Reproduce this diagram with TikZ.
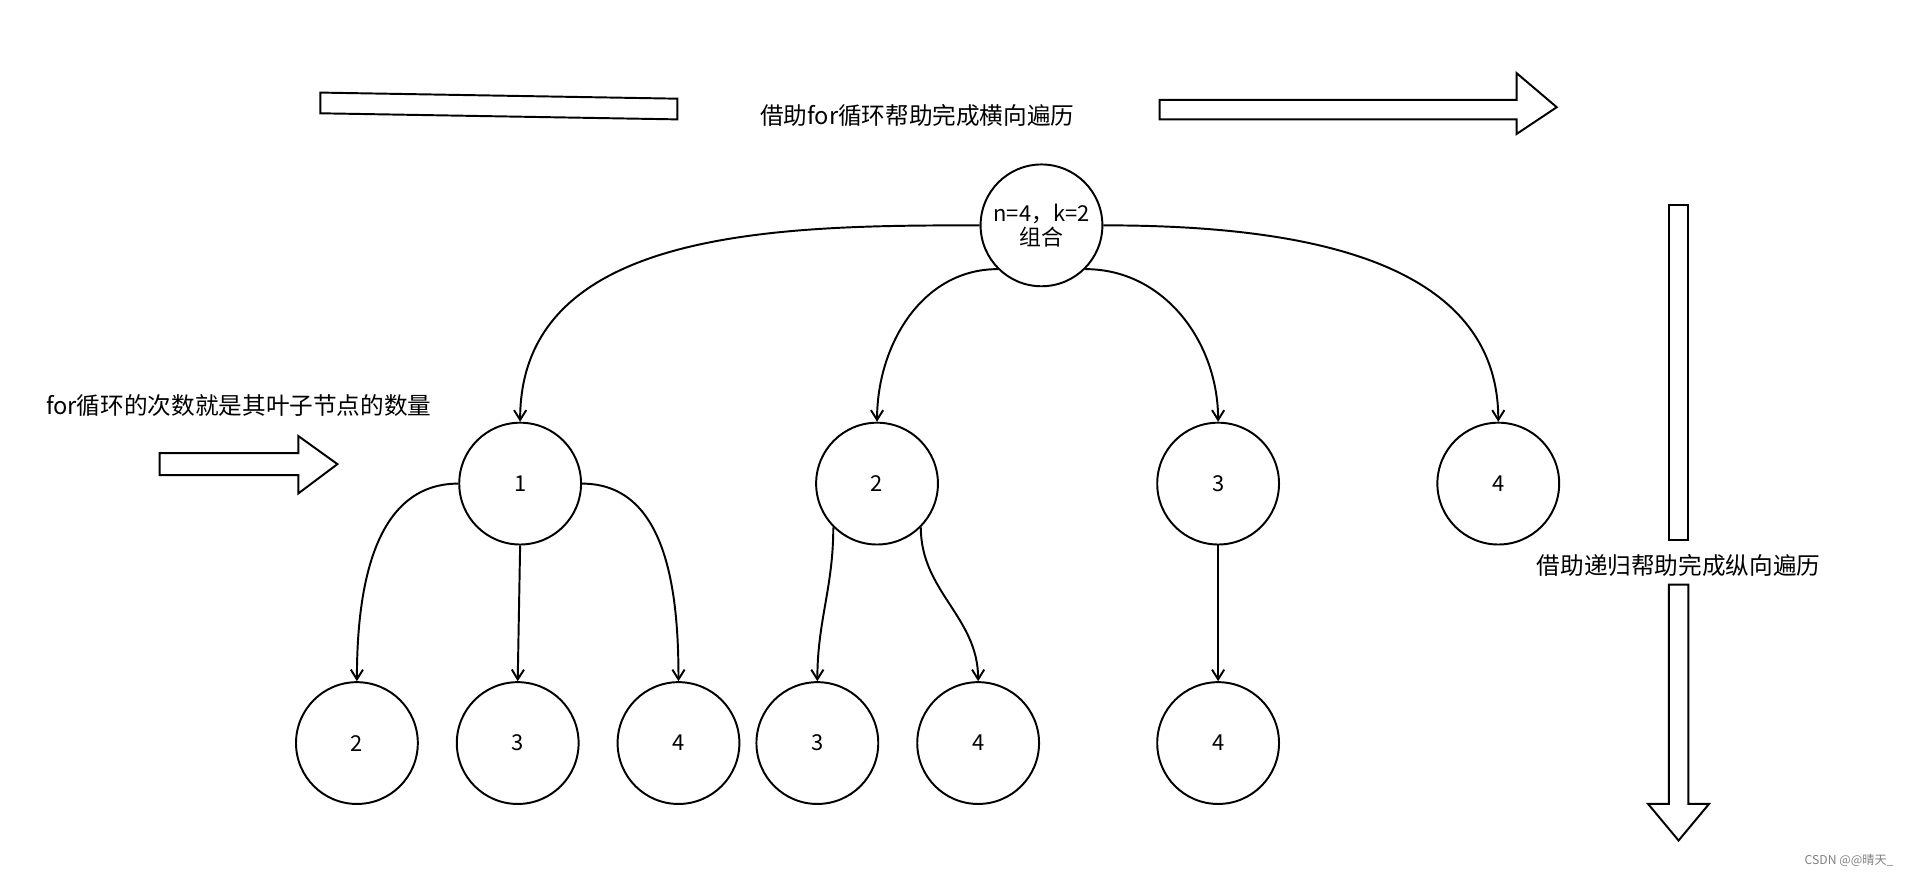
\documentclass[tikz,border=0pt]{standalone}
\usepackage{fontspec}
\setmainfont{Noto Sans CJK SC}
\usetikzlibrary{arrows.meta}
\begin{document}
\begin{tikzpicture}[x=0.5pt,y=-0.5pt,
  nd/.style={circle,draw,thick,minimum size=50pt,inner sep=0pt,font=\fontsize{9}{10}\selectfont},
  ed/.style={thick,-{Straight Barb[length=4pt,width=5pt]}},
  blk/.style={draw,thick,fill=white},
  lab/.style={font=\fontsize{9.7}{11}\selectfont}]
\useasboundingbox (0,0) rectangle (1568,719);
\node[nd,align=center] (r) at (855,185) {n=4，k=2\\组合};
\node[nd] (a1) at (427,397) {1};
\node[nd] (a2) at (720,397) {2};
\node[nd] (a3) at (1000,397) {3};
\node[nd] (a4) at (1230,397) {4};
\node[nd] (b1) at (293,610) {2};
\node[nd] (b2) at (425,610) {3};
\node[nd] (b3) at (557,610) {4};
\node[nd] (b4) at (671,610) {3};
\node[nd] (b5) at (803,610) {4};
\node[nd] (b6) at (1000,610) {4};
\draw[ed] (r.west) to[out=180,in=90] (a1.north);
\draw[ed] (r.south west) to[out=180,in=90] (a2.north);
\draw[ed] (r.south east) to[out=0,in=90] (a3.north);
\draw[ed] (r.east) to[out=0,in=90] (a4.north);
\draw[ed] (a1.west) to[out=180,in=90] (b1.north);
\draw[ed] (a1.south) -- (b2.north);
\draw[ed] (a1.east) to[out=0,in=90] (b3.north);
\draw[ed] (a2.south west) to[out=-90,in=90] (b4.north);
\draw[ed] (a2.south east) to[out=-90,in=90] (b5.north);
\draw[ed] (a3.south) -- (b6.north);
% block arrows
\draw[blk] (263,76) -- (556,81) -- (556,98) -- (263,93) -- cycle;
\draw[blk] (952,82) -- (1245,82) -- (1245,60) -- (1278,88) -- (1245,110) -- (1245,98) -- (952,98) -- cycle;
\draw[blk] (131,372) -- (245,372) -- (245,358) -- (277,381) -- (245,405) -- (245,390) -- (131,390) -- cycle;
\draw[blk] (1370,168) -- (1386,168) -- (1386,443) -- (1370,443) -- cycle;
\draw[blk] (1370,480) -- (1386,480) -- (1386,660) -- (1403,660) -- (1378,690) -- (1353,660) -- (1370,660) -- cycle;
\node[lab] (t1) at (753,95) {借助for循环帮助完成横向遍历};
\node[lab] (t2) at (196,333) {for循环的次数就是其叶子节点的数量};
\node[lab] (t3) at (1378,464) {借助递归帮助完成纵向遍历};
\node[font=\fontsize{5}{6}\selectfont,text=gray] (t4) at (1518,706) {CSDN @@晴天\_};
\end{tikzpicture}
\end{document}
